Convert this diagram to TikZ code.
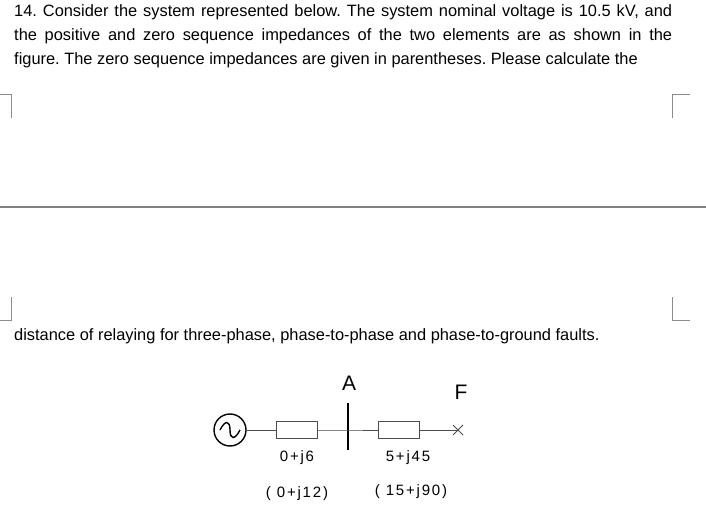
\documentclass[tikz,border=0pt]{standalone}
\usepackage{fontspec}
\setmainfont{Liberation Sans}
\newfontfamily\spaced[LetterSpace=12]{Liberation Sans}
\begin{document}
\frenchspacing
\begin{tikzpicture}[x=1pt,y=-1pt,
  brk/.style={draw=black!45,line width=1pt},
  wire/.style={draw=black!70,line width=1pt},
  imp/.style={draw=black!70,line width=1pt,minimum width=41pt,minimum height=17pt,inner sep=0pt},
  lbl/.style={font=\spaced\fontsize{15}{16}\selectfont,inner sep=0pt}]
\useasboundingbox (0,0) rectangle (706,510);
\node[anchor=north west,inner sep=0pt,text width=658pt,align=justify,font=\fontsize{16.4}{24}\selectfont] (para) at (14,4)
 {14. Consider the system represented below. The system nominal voltage is 10.5 kV, and\linebreak the positive and zero sequence impedances of the two elements are as shown in the\linebreak figure. The zero sequence impedances are given in parentheses. Please calculate the};
\draw[brk] (0,95) -- (11,95) -- (11,118);
\draw[brk] (672,118) -- (672,95) -- (690,95);
\draw[brk] (11,297) -- (11,320) -- (0,320);
\draw[brk] (672,297) -- (672,320) -- (690,320);
\draw[draw=black!50,line width=1.5pt] (0,207) -- (706,207);
\node[anchor=west,inner sep=0pt,font=\fontsize{16.4}{24}\selectfont] (last) at (14,336)
 {distance of relaying for three-phase, phase-to-phase and phase-to-ground faults.};
% circuit
\node[circle,draw,line width=1.4pt,minimum size=32pt,inner sep=0pt] (g) at (230,430) {};
\draw[line width=1.4pt] ([xshift=-10pt]g.center) .. controls (225,420) and (230,420) .. (g.center) .. controls (230,440) and (235,440) .. ([xshift=10pt]g.center);
\node[imp] (z1) at (297,430) {};
\node[imp] (z2) at (399,430) {};
\coordinate (bt) at (348,403);
\coordinate (bb) at (348,450);
\draw[line width=2.5pt] (bt) -- (bb);
\coordinate (bm) at (348,430);
\coordinate (f) at (458,430);
\draw[wire] (g) -- (z1) (z1) -- (bm) -- (z2) (z2) -- (f);
\draw[black!70,line width=0.8pt] ([shift={(-5,-5)}]f) -- ([shift={(5,5)}]f) ([shift={(-5,5)}]f) -- ([shift={(5,-5)}]f);
\node[font=\fontsize{21}{22}\selectfont,inner sep=0pt] (A) at (349,383) {A};
\node[font=\fontsize{21}{22}\selectfont,inner sep=0pt] (F) at (461,392) {F};
\node[lbl] (l1) at (297,458) {0+j6};
\node[lbl] (l2) at (297,494) {( 0+j12)};
\node[lbl] (l3) at (408,458) {5+j45};
\node[lbl] (l4) at (411,492) {( 15+j90)};
\end{tikzpicture}
\end{document}
